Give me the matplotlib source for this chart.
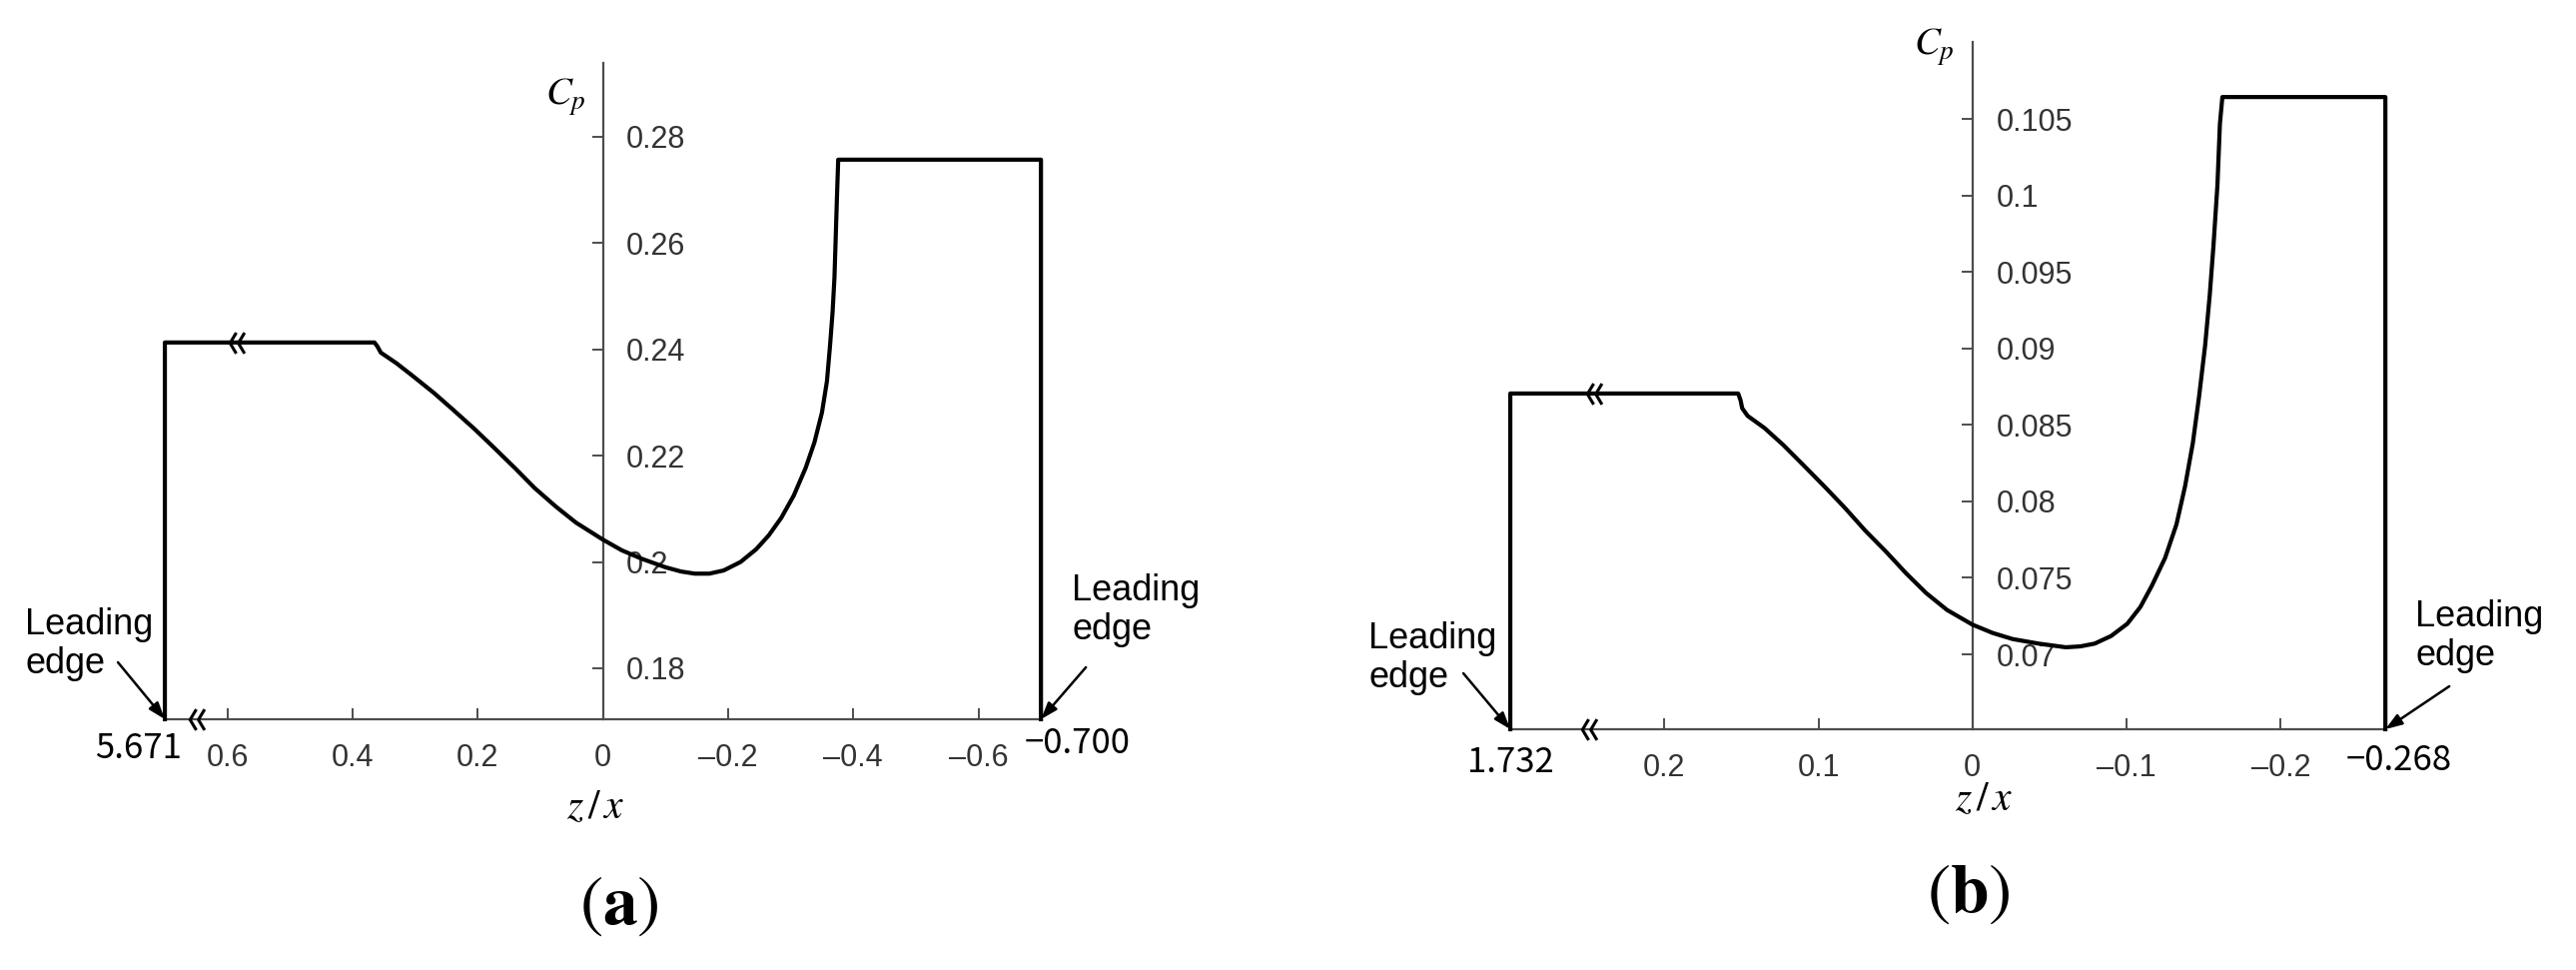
import numpy as np
import matplotlib
matplotlib.use('Agg')
import matplotlib.pyplot as plt
from matplotlib.path import Path
from matplotlib.ticker import FixedLocator, FuncFormatter

plt.rcParams['font.family'] = ['Liberation Sans', 'DejaVu Sans']
plt.rcParams['mathtext.fontset'] = 'stix'

# ---- panel (a) ----
z_a = [0.700, 0.365, 0.360, 0.355, 0.330, 0.306, 0.270, 0.240, 0.205, 0.174,
       0.140, 0.109, 0.075, 0.043, 0.000, -0.030, -0.062, -0.100, -0.125,
       -0.147, -0.170, -0.193, -0.220, -0.245, -0.265, -0.285, -0.305,
       -0.324, -0.338, -0.350, -0.358, -0.363, -0.367, -0.370, -0.372,
       -0.374, -0.376, -0.700]
cp_a = [0.2413, 0.2413, 0.2405, 0.2394, 0.2374, 0.2352, 0.2318, 0.2287, 0.2250,
        0.2215, 0.2176, 0.2139, 0.2104, 0.2074, 0.2042, 0.2022, 0.2006, 0.1990,
        0.1982, 0.1978, 0.1978, 0.1984, 0.2000, 0.2024, 0.2050, 0.2083, 0.2125,
        0.2177, 0.2225, 0.2281, 0.2340, 0.2408, 0.2470, 0.2535, 0.2610,
        0.2686, 0.2757, 0.2757]
xticks_a = [0.6, 0.4, 0.2, 0.0, -0.2, -0.4, -0.6]
yticks_a = [0.18, 0.20, 0.22, 0.24, 0.26, 0.28]
ends_a = ['5.671', '\u22120.700']
breaks_a = [0.588, 0.652]   # on curve, on axis

# ---- panel (b) ----
z_b = [0.300, 0.1521, 0.1505, 0.1495, 0.146, 0.135, 0.1229, 0.110, 0.0963,
       0.083, 0.0697, 0.056, 0.0431, 0.030, 0.0165, 0.000, -0.013, -0.026,
       -0.043, -0.0606, -0.070, -0.0793, -0.090, -0.1005, -0.109, -0.1165,
       -0.125, -0.1324, -0.138, -0.143, -0.147, -0.151, -0.154, -0.1564,
       -0.159, -0.1606, -0.1622, -0.268]
cp_b = [0.08706, 0.08706, 0.0866, 0.0861, 0.0856, 0.0848, 0.0837, 0.0824,
        0.0810, 0.0796, 0.0781, 0.0767, 0.0753, 0.0740, 0.0729, 0.07194,
        0.0714, 0.0710, 0.0707, 0.07046, 0.07052, 0.0707, 0.0712, 0.0720,
        0.0731, 0.0745, 0.0763, 0.0785, 0.0810, 0.0838, 0.0868, 0.0902,
        0.0935, 0.0967, 0.1007, 0.1047, 0.10645, 0.10645]
xticks_b = [0.2, 0.1, 0.0, -0.1, -0.2]
yticks_b = [0.07, 0.075, 0.08, 0.085, 0.09, 0.095, 0.10, 0.105]
ends_b = ['1.732', '\u22120.268']
breaks_b = [0.247, 0.250]

# double chevron used as axis-break symbol
brk_marker = Path([(0.1, 1), (-0.5, 0), (0.1, -1), (0.9, 1), (0.3, 0), (0.9, -1)],
                  [Path.MOVETO, Path.LINETO, Path.LINETO,
                   Path.MOVETO, Path.LINETO, Path.LINETO])

axis_col = '#4d4d4d'


def fmt_x(v, pos):
    if abs(v) < 1e-9:
        return '0'
    return ('\u2013' if v < 0 else '') + f'{abs(v):g}'


def draw_panel(ax, z, cp, xlim, ylim, xticks, yticks, ends, breaks, cfg):
    ax.plot(z[:1] + z + z[-1:], [ylim[0]] + cp + [ylim[0]],
            color='black', lw=3.0, solid_joinstyle='round', clip_on=False, zorder=3)
    ax.set_xlim(*xlim)
    ax.set_ylim(*ylim)

    ax.spines['top'].set_visible(False)
    ax.spines['left'].set_position(('data', 0))
    ax.spines['right'].set_position(('data', 0))
    ax.spines['right'].set_visible(False)
    ax.spines['left'].set_color(axis_col)
    ax.spines['bottom'].set_color(axis_col)
    ax.spines['left'].set_linewidth(1.6)
    ax.spines['bottom'].set_linewidth(1.6)

    ax.xaxis.set_major_locator(FixedLocator(xticks))
    ax.xaxis.set_major_formatter(FuncFormatter(fmt_x))
    ax.yaxis.set_major_locator(FixedLocator(yticks))
    ax.yaxis.set_major_formatter(FuncFormatter(lambda v, p: f'{v:g}'))
    ax.tick_params(axis='x', direction='in', length=8, width=1.4, color=axis_col,
                   labelsize=22, labelcolor='#333333', pad=17)
    ax.tick_params(axis='y', left=True, right=False, labelleft=False, labelright=True,
                   direction='out', length=8, width=1.4, color=axis_col,
                   labelsize=22, labelcolor='#333333', pad=9)

    # break symbols
    ax.plot([breaks[0]], [cp[0]], marker=brk_marker, ms=15, mew=2.2,
            mfc='none', mec='black', ls='none', zorder=4, clip_on=False)
    ax.plot([breaks[1]], [ylim[0]], marker=brk_marker, ms=15, mew=2.2,
            mfc='none', mec='black', ls='none', zorder=4, clip_on=False)

    # end labels
    for xe, lab, off in zip(xlim, ends, cfg['end_off']):
        ax.annotate(lab, xy=(xe, ylim[0]), xytext=off, textcoords='offset pixels',
                    ha='center', va='center', fontsize=25, color='black',
                    family=['Noto Sans CJK SC', 'DejaVu Sans'], fontweight='light')

    # leading-edge notes
    for xe, toff, aoff in zip(xlim, cfg['txt_off'], cfg['arr_off']):
        ax.annotate('Leading\nedge', xy=(xe, ylim[0]), xytext=toff,
                    textcoords='offset pixels', ha='left', va='top', fontsize=26,
                    linespacing=1.15)
        ax.annotate('', xy=(xe, ylim[0]), xytext=aoff, textcoords='offset pixels',
                    arrowprops=dict(arrowstyle='-|>,head_length=1.0,head_width=0.35',
                                    color='black', lw=1.8, shrinkA=0, shrinkB=0))

    ax.annotate('$C_p$', xy=(0, 1), xycoords=('data', 'axes fraction'),
                xytext=cfg['cp_off'], textcoords='offset pixels',
                ha='center', va='center', fontsize=28)
    ax.annotate('$z\\,/\\,x$', xy=(0, 0), xycoords=('data', 'axes fraction'),
                xytext=cfg['zx_off'], textcoords='offset pixels',
                ha='center', va='center', fontsize=30)


fig = plt.figure(figsize=(25.79, 9.71), dpi=100)
ax_a = fig.add_axes([0.0640, 0.2585, 0.3401, 0.6766])
ax_b = fig.add_axes([0.5863, 0.2482, 0.3397, 0.7085])

draw_panel(ax_a, z_a, cp_a, (0.7, -0.7), (0.1704, 0.2939), xticks_a, yticks_a,
           ends_a, breaks_a,
           dict(end_off=[(-27, -30), (36, -25)],
                txt_off=[(-140, 112), (31, 146)],
                arr_off=[(-47, 57), (45, 52)],
                cp_off=(-37, -34), zx_off=(-7, -88)))
draw_panel(ax_b, z_b, cp_b, (0.3, -0.268), (0.0651, 0.11005), xticks_b, yticks_b,
           ends_b, breaks_b,
           dict(end_off=[(0, -34), (14, -32)],
                txt_off=[(-142, 108), (30, 130)],
                arr_off=[(-47, 56), (64, 43)],
                cp_off=(-38, -5), zx_off=(11, -70)))

fig.text(620 / 2579, 1 - 907 / 971, r'$(\mathbf{a})$', ha='center', va='center',
         fontsize=50)
fig.text(1971 / 2579, 1 - 895 / 971, r'$(\mathbf{b})$', ha='center', va='center',
         fontsize=50)

plt.savefig('out.png', dpi=100)
